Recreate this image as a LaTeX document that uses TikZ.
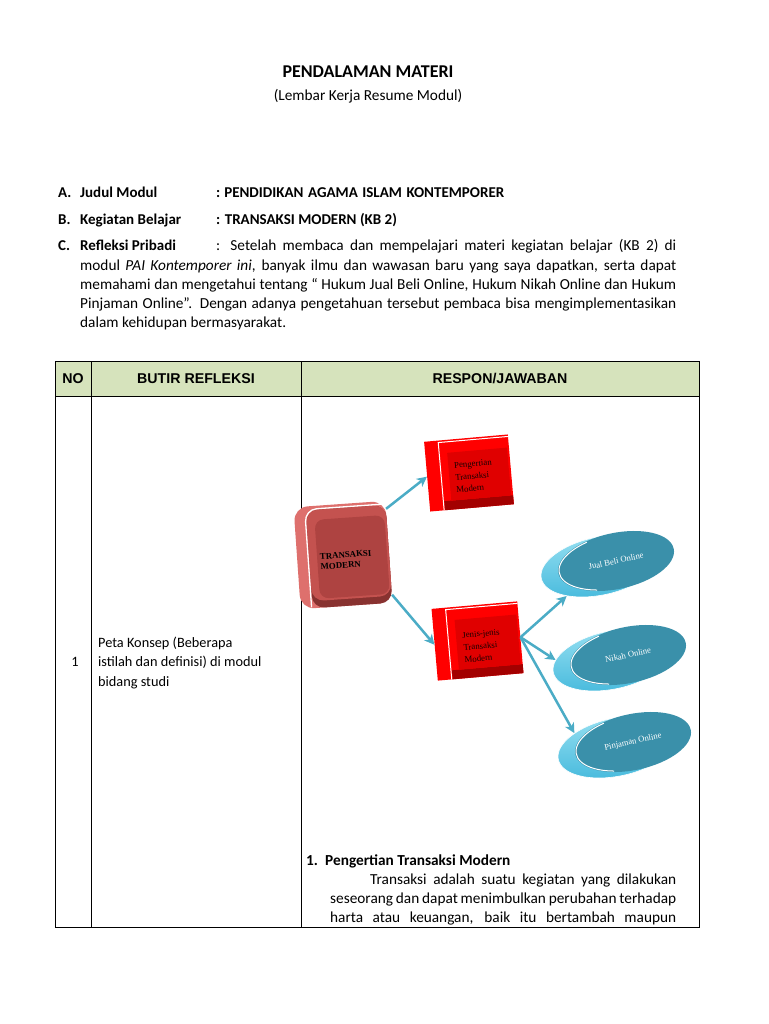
\documentclass[tikz,border=0pt]{standalone}
\usepackage{fontspec}
\setmainfont{Carlito}
\newfontfamily\arialfont{Liberation Sans}
\newfontfamily\boxserif{Liberation Serif}
\usetikzlibrary{arrows.meta,shapes.geometric,calc}
\definecolor{hdrgreen}{HTML}{D6E3BC}
\definecolor{arrowblue}{HTML}{4BACC6}
\definecolor{discfacecol}{HTML}{3A90AA}
\definecolor{discbackcol}{HTML}{45B9DC}
\definecolor{discbacklight}{HTML}{9BE2F3}
\definecolor{boxred}{HTML}{FF0000}
\definecolor{boxredface}{HTML}{E00000}
\definecolor{boxredshadow}{HTML}{A30000}
\definecolor{boxtext}{HTML}{1A0000}
\definecolor{tmside}{HTML}{DE706D}
\definecolor{tmface}{HTML}{C4524F}
\definecolor{tmpanel}{HTML}{AE4341}
\definecolor{tmshadow}{HTML}{883230}
\tikzset{
  body/.style={anchor=base west, inner sep=0, font=\fontsize{15.3}{18}\selectfont},
  bodyb/.style={body, font=\bfseries\fontsize{15}{18}\selectfont},
  cell/.style={anchor=base west, inner sep=0, font=\fontsize{14.3}{17}\selectfont},
  hdr/.style={anchor=base, inner sep=0, font=\arialfont\bfseries\fontsize{14.2}{16}\selectfont},
  tableline/.style={draw=black, line width=0.9pt},
  redbox/.style={rotate=5, fill=boxred, minimum width=84pt, minimum height=70pt, inner sep=0},
  redtext/.style={rotate=5, inner sep=0, align=left, text=boxtext, font=\boxserif\fontsize{8.8}{12.3}\selectfont},
  discback/.style={ellipse, rotate=12, minimum width=120pt, minimum height=58pt, inner sep=0, top color=discbacklight, bottom color=discbackcol, draw=white, line width=0.6pt},
  discface/.style={ellipse, rotate=12, minimum width=118pt, minimum height=56pt, inner sep=0, fill=discfacecol, text=white, font=\boxserif\fontsize{8.6}{10}\selectfont},
  conn/.style={draw=arrowblue, line width=2.5pt, -{Stealth[length=10pt, width=10pt, inset=3pt]}}
}
\begin{document}
\begin{tikzpicture}[x=1pt,y=-1pt]
\useasboundingbox (0,0) rectangle (768,1024);
\fill[white] (0,0) rectangle (768,1024);

% title
\node[anchor=base, inner sep=0, font=\bfseries\fontsize{18}{21}\selectfont] (title) at (368,78) {PENDALAMAN MATERI};
\node[anchor=base, inner sep=0, font=\fontsize{15.3}{18}\selectfont] (subtitle) at (368,101) {(Lembar Kerja Resume Modul)};

% A, B, C
\node[bodyb] (la) at (58,198) {A.};
\node[bodyb] (ta) at (80,198) {Judul Modul};
\node[bodyb] (va) at (216,198) {\makebox[284pt][s]{: PENDIDIKAN\ \ AGAMA\ \ ISLAM\ \ KONTEMPORER}};
\node[bodyb] (lb) at (58,225) {B.};
\node[bodyb] (tb) at (80,225) {Kegiatan Belajar};
\node[bodyb] (vb) at (216,225) {: TRANSAKSI MODERN (KB 2)};
\node[bodyb] (lc) at (58,251) {C.};
\node[bodyb] (tc) at (80,251) {Refleksi Pribadi};
\node[body] (c1) at (216,251) {\makebox[460pt][s]{: Setelah membaca dan mempelajari materi kegiatan belajar (KB 2) di}};
\node[body] (c2) at (80,270) {\makebox[596pt][s]{modul \textit{PAI Kontemporer ini}, banyak ilmu dan wawasan baru yang saya dapatkan, serta dapat}};
\node[body] (c3) at (80,289) {\makebox[596pt][s]{memahami dan mengetahui tentang “ Hukum Jual Beli Online, Hukum Nikah Online dan Hukum}};
\node[body] (c4) at (80,308) {\makebox[596pt][s]{Pinjaman Online”. Dengan adanya pengetahuan tersebut pembaca bisa mengimplementasikan}};
\node[body] (c5) at (80,327) {dalam kehidupan bermasyarakat.};

% table
\fill[hdrgreen] (55,361) rectangle (699,396);
\draw[tableline] (55,361) rectangle (699,927);
\draw[tableline] (55,396) -- (699,396);
\draw[tableline] (91,361) -- (91,927);
\draw[tableline] (301,361) -- (301,927);
\node[hdr] (hno) at (73,383) {NO};
\node[hdr] (hbutir) at (196,383) {BUTIR REFLEKSI};
\node[hdr] (hrespon) at (500,383) {RESPON/JAWABAN};

\node[anchor=base, inner sep=0, font=\fontsize{14.3}{17}\selectfont] (rowno) at (75,666) {1};
\node[cell] (p1) at (98,647) {Peta Konsep (Beberapa};
\node[cell] (p2) at (98,666) {istilah dan definisi) di modul};
\node[cell] (p3) at (98,686) {bidang studi};

% TRANSAKSI MODERN box
\node[rotate=4, rounded corners=14pt, fill=tmside, minimum width=92pt, minimum height=102pt, inner sep=0] (tm) at (343,555) {};
\begin{scope}[shift={(343,555)}, rotate=4]
  \fill[tmshadow, rounded corners=12pt] (-34,-47) rectangle (46,51);
  \fill[tmface, rounded corners=12pt] (-34,-47) rectangle (46,44);
  \fill[tmpanel, rounded corners=9pt] (-26,-37) rectangle (44,42);
  \draw[white, line width=1.3pt, rounded corners=12pt] (-35,50) -- (-35,-48) -- (44,-48);
\end{scope}
\node[rotate=4, inner sep=0, align=left, text=black, font=\boxserif\bfseries\fontsize{8.8}{10.5}\selectfont] (tmtext) at (346,560) {TRANSAKSI\\MODERN};

% Pengertian box
\node[redbox] (pt) at (469,473) {};
\begin{scope}[shift={(469,473)}, rotate=5]
  \fill[boxredshadow] (-27,26) rectangle (42,35);
  \fill[boxredface] (-20,-22) rectangle (40,26);
  \draw[white, line width=1pt] (-28,35) -- (-28,-33) -- (42,-33);
\end{scope}
\node[redtext] (pttext) at (474,476) {Pengertian\\Transaksi\\Modern};

% Jenis-jenis box
\node[redbox, minimum width=86pt, minimum height=72pt] (jj) at (477.5,641) {};
\begin{scope}[shift={(477.5,641)}, rotate=5]
  \fill[boxredshadow] (-28,27) rectangle (43,36);
  \fill[boxredface] (-21,-23) rectangle (41,27);
  \draw[white, line width=1pt] (-29,36) -- (-29,-34) -- (43,-34);
\end{scope}
\node[redtext] (jjtext) at (482,646) {Jenis-jenis\\Transaksi\\Modern};

% discs
\node[discback] (jbb) at (600,566) {};
\node[discface] (jb) at (616,561) {Jual Beli Online};
\node[discback] (nob) at (612,660) {};
\node[discface] (no) at (628,655) {Nikah Online};
\node[discback] (pob) at (617,747) {};
\node[discface] (po) at (633,742) {Pinjaman Online};
\foreach \cx/\cy in {616/561, 628/655, 633/742}{
  \begin{scope}[shift={(\cx,\cy)}, rotate=12]
    \draw[white, line width=1pt] (115:58 and 27) arc[start angle=115, end angle=245, x radius=58, y radius=27];
  \end{scope}
}

% connectors
\draw[conn] (tm.43) -- (pt.west);
\draw[conn] (tm.-43) -- (jj.west);
\draw[conn] (jj.east) -- (jbb.210);
\draw[conn] (jj.east) -- (nob.168);
\draw[conn] (jj.east) -- (pob.150);

% bottom text
\node[bodyb, font=\bfseries\fontsize{15.3}{18}\selectfont] (s1n) at (306,865) {1.};
\node[bodyb, font=\bfseries\fontsize{15.3}{18}\selectfont] (s1t) at (325,865) {Pengertian Transaksi Modern};
\node[body] (s1a) at (370,884) {\makebox[306pt][s]{Transaksi adalah suatu kegiatan yang dilakukan}};
\node[body] (s1b) at (330,903) {\makebox[346pt][s]{seseorang dan dapat menimbulkan perubahan terhadap}};
\node[body] (s1c) at (330,922) {\makebox[346pt][s]{harta atau keuangan, baik itu bertambah maupun}};
\end{tikzpicture}
\end{document}
